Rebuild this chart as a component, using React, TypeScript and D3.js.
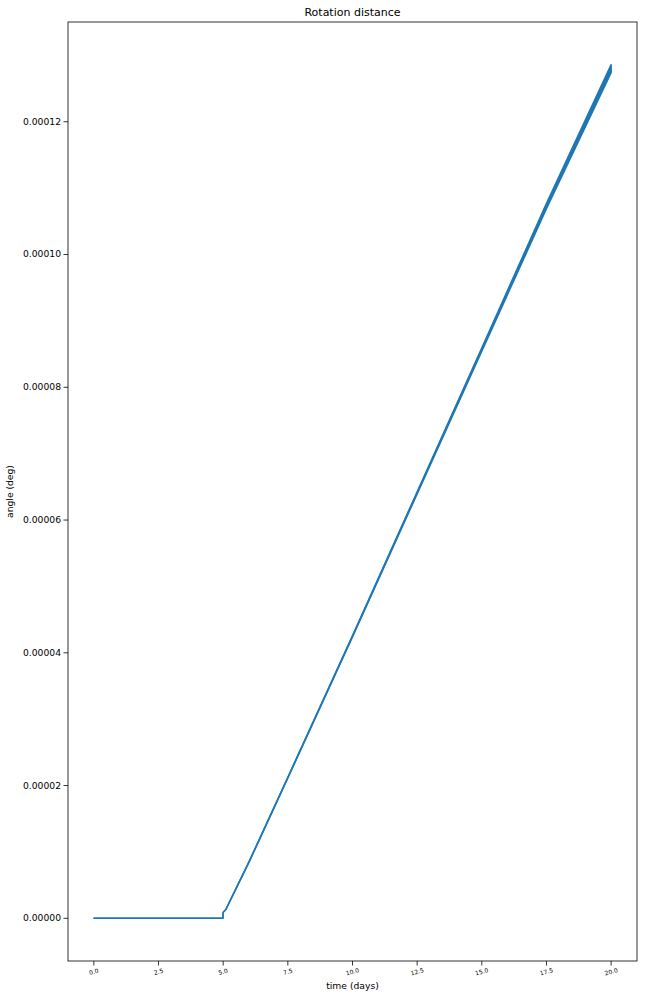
import { useMemo } from "react";
import * as d3 from "d3";

const WIDTH = 646;
const HEIGHT = 1000;
const MARGIN = { top: 22, right: 9, bottom: 39, left: 68 };

// centre line of the rotation angle (deg) over time (days)
const times = [0, 4.99, 5.0, 5.1, 6.0, 7.5, 10, 12.5, 15, 17.5, 20];
const angles = [
  0, 0, 0.0000009, 0.0000013, 0.0000085, 0.0000212, 0.0000425, 0.0000641,
  0.0000857, 0.0001073, 0.000128,
];
// half width of the oscillation band around the centre line
const ripple = [0, 0, 0, 0, 0.00000003, 0.00000006, 0.0000001, 0.00000016, 0.00000026, 0.0000004, 0.0000006];

const xTicks = [0, 2.5, 5, 7.5, 10, 12.5, 15, 17.5, 20];
const yTicks = [0, 0.00002, 0.00004, 0.00006, 0.00008, 0.0001, 0.00012];

const FONT = "DejaVu Sans, sans-serif";

export default function App() {
  const boundsWidth = WIDTH - MARGIN.left - MARGIN.right;
  const boundsHeight = HEIGHT - MARGIN.top - MARGIN.bottom;

  const xScale = useMemo(() => {
    const pad = 20 * 0.05;
    return d3.scaleLinear().domain([0 - pad, 20 + pad]).range([0, boundsWidth]);
  }, [boundsWidth]);

  const yScale = useMemo(() => {
    const max = d3.max(angles.map((v, i) => v + ripple[i])) ?? 0;
    const pad = max * 0.05;
    return d3.scaleLinear().domain([-pad, max + pad]).range([boundsHeight, 0]);
  }, [boundsHeight]);

  const rows = times.map((t, i) => ({ t, v: angles[i], r: ripple[i] }));

  const linePath = d3
    .line<{ t: number; v: number }>()
    .x((d) => xScale(d.t))
    .y((d) => yScale(d.v))(rows);

  const bandPath = d3
    .area<{ t: number; v: number; r: number }>()
    .x((d) => xScale(d.t))
    .y0((d) => yScale(d.v - d.r))
    .y1((d) => yScale(d.v + d.r))(rows);

  return (
    <svg
      width={WIDTH}
      height={HEIGHT}
      style={{ position: "absolute", left: 0, top: 0, background: "#fff" }}
      fontFamily={FONT}
    >
      <text x={MARGIN.left + boundsWidth / 2} y={16} textAnchor="middle" fontSize={11}>
        Rotation distance
      </text>
      <g transform={`translate(${MARGIN.left},${MARGIN.top})`}>
        <path d={bandPath ?? ""} fill="#1f77b4" stroke="#1f77b4" strokeWidth={1.5} strokeLinejoin="round" />
        <path d={linePath ?? ""} fill="none" stroke="#1f77b4" strokeWidth={1.5} strokeLinejoin="round" />

        <rect x={0} y={0} width={boundsWidth} height={boundsHeight} fill="none" stroke="#000" strokeWidth={0.8} />

        {yTicks.map((v) => (
          <g key={v} transform={`translate(0,${yScale(v)})`}>
            <line x1={-4.5} x2={0} stroke="#000" strokeWidth={0.8} />
            <text x={-7} dy="0.32em" textAnchor="end" fontSize={9.2}>
              {v.toFixed(5)}
            </text>
          </g>
        ))}

        {xTicks.map((t) => (
          <g key={t} transform={`translate(${xScale(t)},${boundsHeight})`}>
            <line y1={0} y2={4.5} stroke="#000" strokeWidth={0.8} />
            <text
              transform="translate(0,11) rotate(-15)"
              textAnchor="middle"
              dy="0.32em"
              fontSize={6}
            >
              {t.toFixed(1)}
            </text>
          </g>
        ))}

        <text x={boundsWidth / 2} y={boundsHeight + 28} textAnchor="middle" fontSize={9.2}>
          time (days)
        </text>
        <text
          transform={`translate(${-55},${boundsHeight / 2}) rotate(-90)`}
          textAnchor="middle"
          fontSize={9.2}
        >
          angle (deg)
        </text>
      </g>
    </svg>
  );
}
